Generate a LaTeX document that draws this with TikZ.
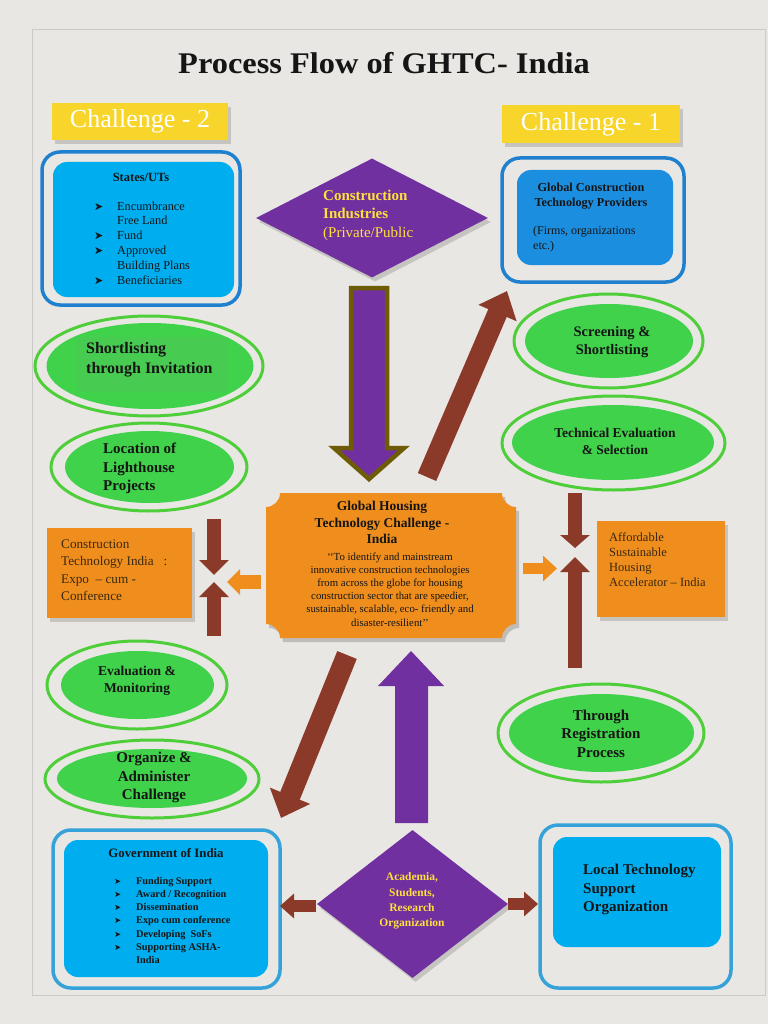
\documentclass[tikz,border=0pt]{standalone}
\usepackage{fontspec}
\setmainfont{Liberation Serif}
\newfontfamily\dejavu{DejaVu Sans}
\usetikzlibrary{shapes.geometric,arrows.meta,shadows}
\definecolor{bgc}{HTML}{E8E7E3}
\definecolor{framec}{HTML}{CBCAC6}
\definecolor{purp}{HTML}{7030A0}
\definecolor{olivec}{HTML}{6E5C05}
\definecolor{yel}{HTML}{FFE03C}
\definecolor{brn}{HTML}{8B3A2A}
\definecolor{org}{HTML}{EF8E1D}
\definecolor{grn}{HTML}{40D24A}
\definecolor{grnb}{HTML}{4ECF3A}
\definecolor{grnr}{HTML}{47CB50}
\definecolor{lblue}{HTML}{00AEEF}
\definecolor{mblue}{HTML}{1C8EDF}
\definecolor{bring}{HTML}{1F80D0}
\definecolor{bringb}{HTML}{36A2DA}
\definecolor{gold}{HTML}{F8D52B}
\definecolor{txt}{HTML}{151515}
\definecolor{otxt}{HTML}{3A2810}
\newcommand{\fs}[2]{\fontsize{#1}{#2}\selectfont}
\newcommand{\bul}{{\dejavu\fontsize{11}{11}\selectfont ➤}}
\newcommand{\bulsm}{{\dejavu\fontsize{8.5}{8.5}\selectfont ➤}}
\begin{document}
\begin{tikzpicture}[x=1pt,y=-1pt,
  sh/.style={drop shadow={shadow xshift=3pt,shadow yshift=-4pt,opacity=.22,fill=black!70}},
  ringbox/.style={rectangle,rounded corners=18,draw=bring,line width=3.5,inner sep=0},
  fillbox/.style={rectangle,rounded corners=14,fill=lblue,inner sep=0},
  ellring/.style={ellipse,draw=grnb,line width=3,inner sep=0},
  ellfill/.style={ellipse,fill=grn,inner sep=0},
  orgbox/.style={rectangle,fill=org,inner sep=0,sh},
  chbox/.style={rectangle,fill=gold,inner sep=0,sh},
  dia/.style={diamond,fill=purp,inner sep=0,sh},
  lbl/.style={inner sep=0,text=txt},
  brownarr/.style={draw=brn,line width=#1},
  orgarr/.style={draw=org,line width=#1},
]
\useasboundingbox (0,0) rectangle (768,1024);
\fill[bgc] (0,0) rectangle (768,1024);
\draw[framec,line width=1] (32,30) rectangle (765,995);

% title
\node[lbl,font=\bfseries\fs{30}{36}] (title) at (384,63) {\scalebox{1.08}[1]{Process Flow of GHTC- India}};

% challenge labels
\node[chbox,minimum width=176,minimum height=37] (ch2) at (140,121.5) {};
\node[lbl,text=white,font=\fs{26}{30}] (ch2t) at (140,121) {Challenge - 2};
\node[chbox,minimum width=178,minimum height=38] (ch1) at (591,124) {};
\node[lbl,text=white,font=\fs{26}{30}] (ch1t) at (591,124) {Challenge - 1};

% States/UTs
\node[ringbox,minimum width=198,minimum height=153] (stR) at (141,228.5) {};
\node[fillbox,minimum width=181,minimum height=135] (stF) at (143.5,229.5) {};
\node[lbl,font=\bfseries\fs{12.5}{15}] (stH) at (141,177) {States/UTs};
\node[lbl,anchor=north west,font=\fs{12.3}{14.8}] (stL) at (94,199.6) {%
\begin{tabular}{@{}p{23pt}@{}l@{}}
\bul & Encumbrance\\
 & Free Land\\
\bul & Fund\\
\bul & Approved\\
 & Building Plans\\
\bul & Beneficiaries
\end{tabular}};

% Construction industries diamond
\node[dia,minimum width=232,minimum height=119] (ci) at (372,218) {};
\node[lbl,text=yel,anchor=west,align=left,font=\fs{15}{18.5}] (cit) at (323,215) {\textbf{Construction}\\\textbf{Industries}\\(Private/Public};

% Global construction technology providers
\node[ringbox,minimum width=182,minimum height=124] (gcR) at (593,220) {};
\node[fillbox,fill=mblue,minimum width=156,minimum height=95] (gcF) at (595,217.5) {};
\node[lbl,align=center,font=\bfseries\fs{12.2}{15}] (gcH) at (591,196.5) {Global Construction\\Technology Providers};
\node[lbl,anchor=west,align=left,font=\fs{12}{15}] (gcT) at (533,239.5) {(Firms, organizations\\etc.)};

% green ellipses left
\node[ellring,minimum width=228,minimum height=100] (siR) at (149,366) {};
\node[ellfill,minimum width=207,minimum height=86] (siF) at (150,366) {};
\node[rectangle,fill=grnr,minimum width=151,minimum height=55,inner sep=0] (siB) at (152.5,364.5) {};
\node[lbl,anchor=west,align=left,font=\bfseries\fs{16}{20}] (siT) at (86,360) {Shortlisting\\through Invitation};

\node[ellring,minimum width=196,minimum height=88] (loR) at (149,467) {};
\node[ellfill,minimum width=169,minimum height=72] (loF) at (149.5,467) {};
\node[lbl,anchor=west,align=left,font=\bfseries\fs{15}{18.5}] (loT) at (103,468.5) {Location of\\Lighthouse\\Projects};

\node[ellring,minimum width=180,minimum height=88] (evR) at (137,685) {};
\node[ellfill,minimum width=153,minimum height=68] (evF) at (137.5,685) {};
\node[lbl,align=center,font=\bfseries\fs{13.5}{17}] (evT) at (137,680.5) {Evaluation \&\\Monitoring};

\node[ellring,minimum width=214,minimum height=78] (orR) at (152,779) {};
\node[ellfill,minimum width=190,minimum height=59] (orF) at (152,778.5) {};
\node[lbl,align=center,font=\bfseries\fs{15}{18.5}] (orT) at (154,777.5) {Organize \&\\Administer\\Challenge};

% green ellipses right
\node[ellring,minimum width=189,minimum height=94] (scR) at (608.5,341) {};
\node[ellfill,minimum width=168,minimum height=74] (scF) at (609,341) {};
\node[lbl,align=center,font=\bfseries\fs{14.5}{18}] (scT) at (612,342) {Screening \&\\Shortlisting};

\node[ellring,minimum width=223,minimum height=94] (teR) at (613.5,443) {};
\node[ellfill,minimum width=202,minimum height=75] (teF) at (613,442.5) {};
\node[lbl,align=center,font=\bfseries\fs{13.5}{17}] (teT) at (615,441.5) {Technical Evaluation\\\& Selection};

\node[ellring,minimum width=206,minimum height=98] (trR) at (601,733) {};
\node[ellfill,minimum width=185,minimum height=78] (trF) at (601.5,733) {};
\node[lbl,align=center,font=\bfseries\fs{15}{18.5}] (trT) at (601,733.5) {Through\\Registration\\Process};

% central GHTC plaque
\fill[black,opacity=.18] (283,497) -- (505,497)
  .. controls (505,504.7) and (511.3,511) .. (519,511) -- (519,628)
  .. controls (511.3,628) and (505,634.3) .. (505,642) -- (283,642)
  .. controls (283,634.3) and (276.7,628) .. (269,628) -- (269,511)
  .. controls (276.7,511) and (283,504.7) .. (283,497) -- cycle;
\fill[org] (280,493) -- (502,493)
  .. controls (502,500.7) and (508.3,507) .. (516,507) -- (516,624)
  .. controls (508.3,624) and (502,630.3) .. (502,638) -- (280,638)
  .. controls (280,630.3) and (273.7,624) .. (266,624) -- (266,507)
  .. controls (273.7,507) and (280,500.7) .. (280,493) -- cycle;
\node[inner sep=0,minimum width=250,minimum height=145] (ghtc) at (391,565.5) {};
\node[lbl,align=center,font=\bfseries\fs{13.5}{16.5}] (ghtcH) at (382,522.5) {Global Housing\\Technology Challenge -\\India};
\node[lbl,align=center,font=\fs{10.8}{13.1}] (ghtcQ) at (390,589.5) {‘‘To identify and mainstream\\innovative construction technologies\\from across the globe for housing\\construction sector that are speedier,\\sustainable, scalable, eco- friendly and\\disaster-resilient’’};

% orange side boxes
\node[orgbox,minimum width=145,minimum height=90] (ctb) at (119.5,573) {};
\node[lbl,text=otxt,anchor=west,align=left,font=\fs{13.2}{17.5}] (ctt) at (61,570) {Construction\\Technology India~~~:\\Expo ~– cum -\\Conference};
\node[orgbox,minimum width=128,minimum height=96] (ahb) at (661,569) {};
\node[lbl,text=otxt,anchor=west,align=left,font=\fs{12.5}{15}] (aht) at (609,559.5) {Affordable\\Sustainable\\Housing\\Accelerator – India};

% big purple down arrow
\fill[black,opacity=.2] (351,286) -- (387,286) -- (387,446) -- (404,446) -- (369,482) -- (334,446) -- (351,446) -- cycle;
\draw[olivec,line width=4.5,fill=purp,line join=miter] (351,288) -- (387,288) -- (387,448) -- (404,448) -- (369,479) -- (334,448) -- (351,448) -- cycle;
\coordinate (pdS) at (369,288);
% big purple up arrow
\fill[purp] (395,823) -- (428,823) -- (428,686) -- (444,686) -- (411,651) -- (378,686) -- (395,686) -- cycle;

% diagonal brown arrows
\coordinate (d1s) at (427,477);
\coordinate (d1e) at (507,291);
\draw[brownarr=20,-{Triangle[length=24pt,width=40pt]}] (d1s) -- (d1e);
\coordinate (d2s) at (347,655);
\coordinate (d2e) at (281,818);
\draw[brownarr=21,-{Triangle[length=24pt,width=42pt]}] (d2s) -- (d2e);

% left cross arrows
\coordinate (l1s) at (214,519);
\coordinate (l1e) at (214,575);
\draw[brownarr=14,-{Triangle[length=15pt,width=29pt]}] (l1s) -- (l1e);
\coordinate (l2s) at (214,636);
\coordinate (l2e) at (214,582);
\draw[brownarr=14,-{Triangle[length=15pt,width=29pt]}] (l2s) -- (l2e);
\coordinate (l3s) at (261,582);
\coordinate (l3e) at (227,582);
\draw[orgarr=14,-{Triangle[length=13pt,width=25pt]}] (l3s) -- (l3e);

% right cross arrows
\coordinate (r1s) at (575,493);
\coordinate (r1e) at (575,548);
\draw[brownarr=14,-{Triangle[length=13pt,width=29pt]}] (r1s) -- (r1e);
\coordinate (r2s) at (575,668);
\coordinate (r2e) at (575,557);
\draw[brownarr=14,-{Triangle[length=15pt,width=29pt]}] (r2s) -- (r2e);
\coordinate (r3s) at (523,568.5);
\coordinate (r3e) at (557,568.5);
\draw[orgarr=11,-{Triangle[length=14pt,width=25pt]}] (r3s) -- (r3e);

% Government of India
\node[ringbox,draw=bringb,minimum width=227,minimum height=158] (goR) at (166.5,909) {};
\node[fillbox,minimum width=204,minimum height=137] (goF) at (166,908.5) {};
\node[lbl,font=\bfseries\fs{12.8}{15}] (goH) at (166,853) {Government of India};
\node[lbl,anchor=north west,font=\bfseries\fs{10.3}{13.3}] (goL) at (114,874.5) {%
\begin{tabular}{@{}p{22pt}@{}l@{}}
\bulsm & Funding Support\\
\bulsm & Award / Recognition\\
\bulsm & Dissemination\\
\bulsm & Expo cum conference\\
\bulsm & Developing ~SoFs\\
\bulsm & Supporting ASHA-\\
 & India
\end{tabular}};

% Academia diamond
\node[dia,minimum width=191,minimum height=148] (ac) at (412.5,904) {};
\node[lbl,text=yel,align=center,font=\bfseries\fs{11.5}{15.3}] (act) at (412,901) {Academia,\\Students,\\Research\\Organization};

% Local technology support organization
\node[ringbox,draw=bringb,minimum width=191,minimum height=163] (ltR) at (635.5,906.5) {};
\node[fillbox,minimum width=168,minimum height=110] (ltF) at (637,892) {};
\node[lbl,anchor=west,align=left,font=\bfseries\fs{15}{18.5}] (ltT) at (583,889.5) {Local Technology\\Support\\Organization};

% small brown arrows
\coordinate (b1s) at (316,906);
\coordinate (b1e) at (280,906);
\draw[brownarr=12,-{Triangle[length=14pt,width=24pt]}] (b1s) -- (b1e);
\coordinate (b2s) at (508,904);
\coordinate (b2e) at (538,904);
\draw[brownarr=12,-{Triangle[length=14pt,width=24pt]}] (b2s) -- (b2e);
\end{tikzpicture}
\end{document}
